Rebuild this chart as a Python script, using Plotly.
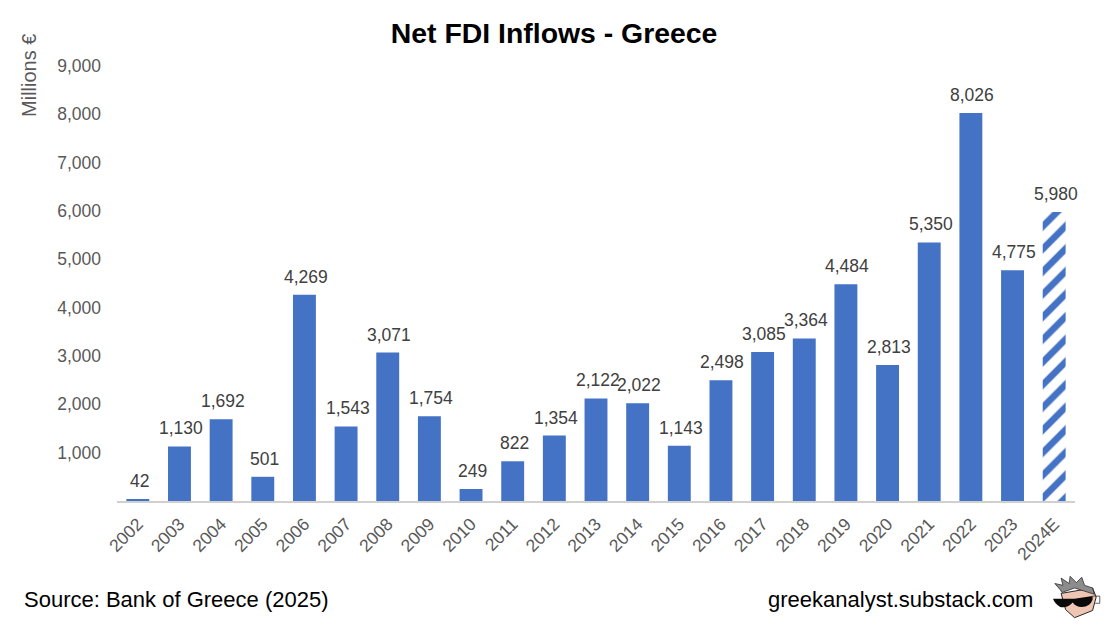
import base64
import plotly.graph_objects as go

years = ['2002', '2003', '2004', '2005', '2006', '2007', '2008', '2009', '2010', '2011', '2012', '2013',
         '2014', '2015', '2016', '2017', '2018', '2019', '2020', '2021', '2022', '2023', '2024E']
fdi = [42, 1130, 1692, 501, 4269, 1543, 3071, 1754, 249, 822, 1354, 2122,
       2022, 1143, 2498, 3085, 3364, 4484, 2813, 5350, 8026, 4775, 5980]
# only the estimate gets the hatching
hatch = [''] * 22 + ['/']

y_ticks = [1000, 2000, 3000, 4000, 5000, 6000, 7000, 8000, 9000]

BLUE = '#4472C4'
FONT = 'Liberation Sans'
W, H = 1116, 640
L, R, T, B = 116.6, 40.6, 66, 139

# little cartoon head bottom right
logo_svg = '''<svg xmlns="http://www.w3.org/2000/svg" viewBox="0 0 60 60" width="240" height="240">
<path d="M15 26 L20 44 L30 53 L50 45 L54 30 L50 20 Z" fill="#EFC6B4" stroke="#111" stroke-width="1"/>
<path d="M14 22 L8 15 L17 17 L15 9 L24 15 L25 7 L32 14 L38 8 L41 17 L50 20 L52 27 L30 20 L16 25 Z"
 fill="#8C8C8C" stroke="#222" stroke-width="0.8"/>
<path d="M6 32 L30 32 L50 29 L50 33 Q47 41 38 41 Q31 41 28 36 Q21 43 14 41 Q8 38 6 32 Z" fill="#0A0A0A"/>
<path d="M50 29 L58 29 L58 37 L53 37" fill="none" stroke="#222" stroke-width="0.8"/>
</svg>'''
logo_src = 'data:image/svg+xml;base64,' + base64.b64encode(logo_svg.encode()).decode()

fig = go.Figure(go.Bar(
    x=years,
    y=fdi,
    width=0.55,
    marker=dict(
        color=BLUE,
        line=dict(width=0),
        pattern=dict(shape=hatch, fgcolor=BLUE, bgcolor='white', fgopacity=1, size=16, solidity=0.42),
    ),
    showlegend=False,
))

fig.update_layout(
    width=W,
    height=H,
    margin=dict(l=L, r=R, t=T, b=B, pad=0),
    paper_bgcolor='white',
    plot_bgcolor='white',
    font=dict(family=FONT, color='#595959', size=17.5),
    title=dict(text='<b>Net FDI Inflows - Greece</b>', x=0.4965, xanchor='center', y=0.948, yanchor='middle',
               font=dict(size=28.4, color='black', family=FONT)),
    xaxis=dict(
        type='category',
        range=[-0.5, 22.5],
        tickangle=-45,
        tickfont=dict(size=17.5, color='#595959'),
        showgrid=False,
        showline=True,
        linecolor='#D0D0D0',
        linewidth=2,
        ticks='',
        ticklabelstandoff=4,
    ),
    yaxis=dict(
        range=[0, 9000],
        tickvals=y_ticks,
        tickformat=',d',
        tickfont=dict(size=17.5, color='#595959'),
        showgrid=False,
        zeroline=False,
        showline=False,
        ticks='',
        ticklabelstandoff=15,
    ),
)

# value labels as annotations so the gap above the bars can be set
# (category index for x, a year string would be read as a number)
for i, val in enumerate(fdi):
    fig.add_annotation(x=i, y=val, text=f'{val:,}', showarrow=False, yanchor='middle', yshift=18, xshift=1.5,
                       font=dict(size=17.5, color='#404040'))

plot_w = W - L - R
plot_h = H - T - B

def px(x):
    return (x - L) / plot_w

def py(y):
    return (H - B - y) / plot_h

fig.add_annotation(text='Millions €', xref='paper', yref='paper', x=px(28), y=py(75.5), textangle=-90,
                   showarrow=False, xanchor='center', yanchor='middle', font=dict(size=20, color='#595959'))
fig.add_annotation(text='Source: Bank of Greece (2025)', xref='paper', yref='paper', x=px(22), y=py(599),
                   showarrow=False, xanchor='left', yanchor='middle', font=dict(size=22, color='black'))
fig.add_annotation(text='greekanalyst.substack.com', xref='paper', yref='paper', x=px(1035), y=py(599),
                   showarrow=False, xanchor='right', yanchor='middle', font=dict(size=22, color='black'))

fig.add_layout_image(dict(source=logo_src, xref='paper', yref='paper', x=px(1048), y=py(570),
                          sizex=54 / plot_w, sizey=54 / plot_h, xanchor='left', yanchor='top', layer='above'))

fig.write_html('out.html', config=dict(displayModeBar=False), post_script="document.body.style.margin='0';")
